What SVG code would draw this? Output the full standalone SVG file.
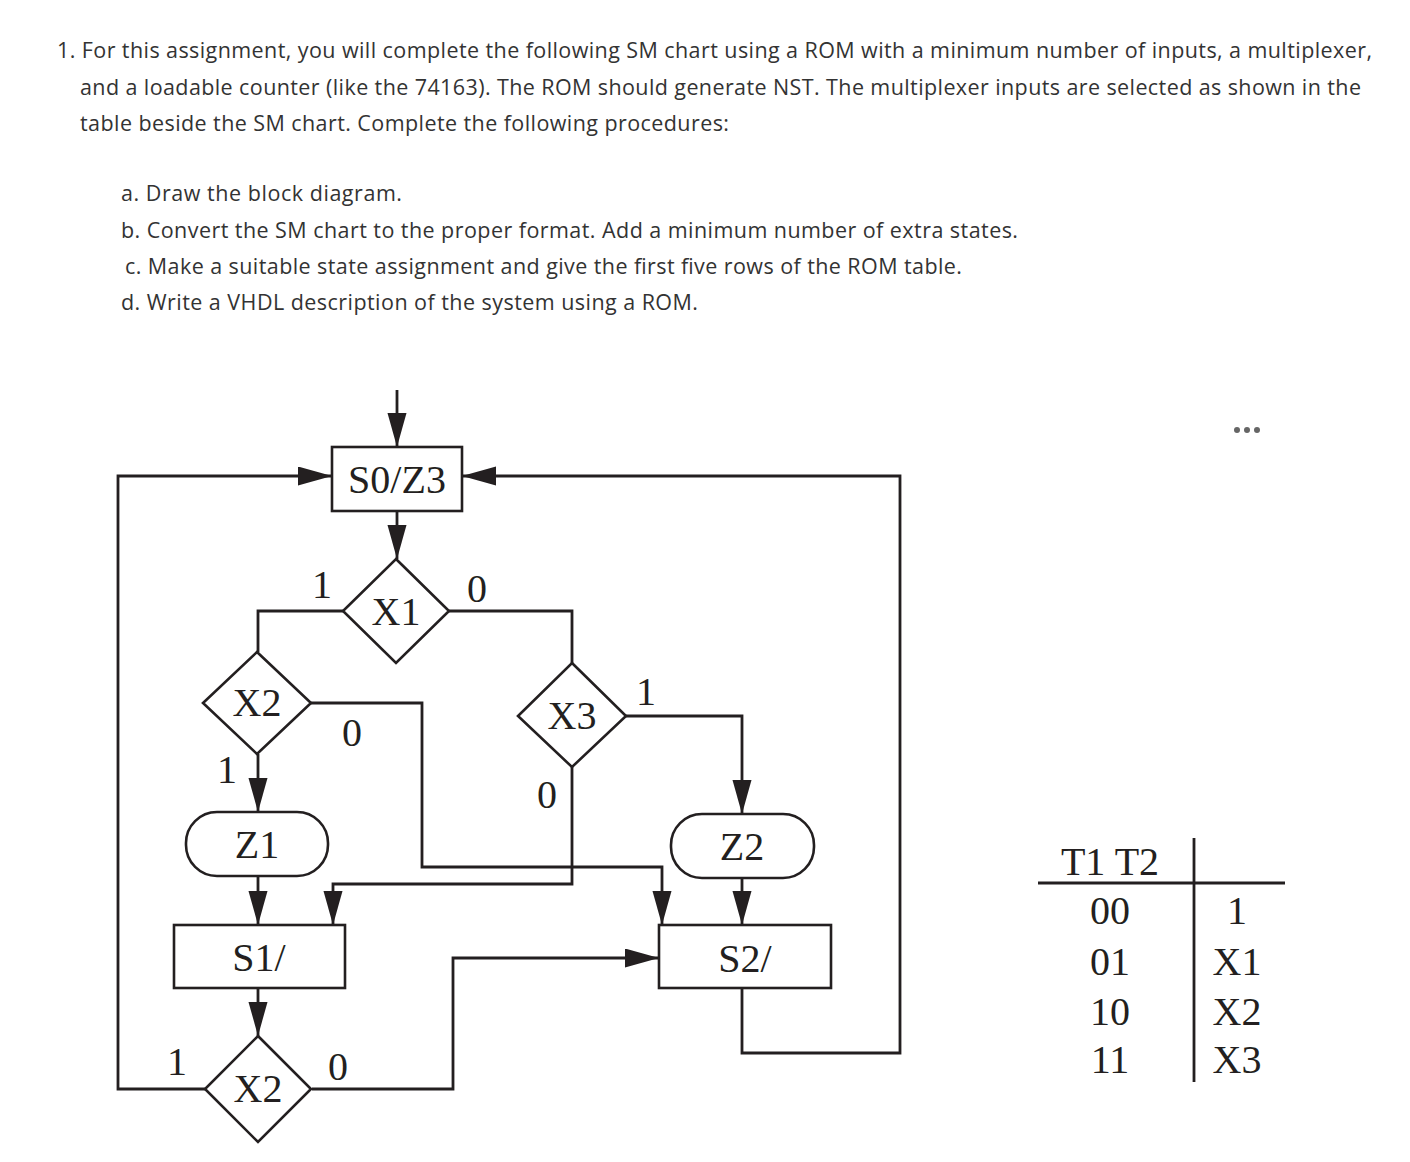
<svg xmlns="http://www.w3.org/2000/svg" width="1410" height="1162" viewBox="0 0 1410 1162">
<style>
.hdr{font-family:"Open Sans","Noto Sans",sans-serif;font-size:21.5px;fill:#333333}
.lbl{font-family:"Liberation Serif",serif;font-size:40px;fill:#231f20;text-anchor:middle}
.shape{fill:#ffffff;stroke:#231f20;stroke-width:2.6}
.conn{fill:none;stroke:#231f20;stroke-width:2.8}
.arr{marker-end:url(#ah)}
</style>
<defs>
<marker id="ah" markerUnits="userSpaceOnUse" markerWidth="36" markerHeight="20" refX="34" refY="9.5" orient="auto">
<path d="M0,0 L34,9.5 L0,19 z" fill="#231f20"/>
</marker>
</defs>
<rect width="1410" height="1162" fill="#ffffff"/>
<g id="header">
<text class="hdr" x="57" y="58" textLength="1315" lengthAdjust="spacing">1. For this assignment, you will complete the following SM chart using a ROM with a minimum number of inputs, a multiplexer,</text>
<text class="hdr" x="80" y="95" textLength="1281" lengthAdjust="spacing">and a loadable counter (like the 74163). The ROM should generate NST. The multiplexer inputs are selected as shown in the</text>
<text class="hdr" x="80" y="131" textLength="649" lengthAdjust="spacing">table beside the SM chart. Complete the following procedures:</text>
<text class="hdr" x="121" y="201" textLength="281" lengthAdjust="spacing">a. Draw the block diagram.</text>
<text class="hdr" x="121" y="238" textLength="897" lengthAdjust="spacing">b. Convert the SM chart to the proper format. Add a minimum number of extra states.</text>
<text class="hdr" x="125" y="274" textLength="837" lengthAdjust="spacing">c. Make a suitable state assignment and give the first five rows of the ROM table.</text>
<text class="hdr" x="121" y="310" textLength="577" lengthAdjust="spacing">d. Write a VHDL description of the system using a ROM.</text>
</g>
<g id="more" fill="#666666">
<circle cx="1237" cy="430" r="3"/>
<circle cx="1247" cy="430" r="3"/>
<circle cx="1257" cy="430" r="3"/>
</g>
<g id="connectors">
<path class="conn arr" d="M397,390 V447"/>
<path class="conn arr" d="M397,511 V559"/>
<path class="conn" d="M343,611 H258 V652"/>
<path class="conn" d="M449,611 H572 V663"/>
<path class="conn arr" d="M258,754 V812"/>
<path class="conn arr" d="M311,703 H422 V867 H662 V925"/>
<path class="conn arr" d="M258,876 V925"/>
<path class="conn arr" d="M572,767 V884 H333 V925"/>
<path class="conn arr" d="M626,716 H742 V814"/>
<path class="conn arr" d="M742,878 V925"/>
<path class="conn arr" d="M258,988 V1036"/>
<path class="conn arr" d="M205,1089 H118 V476 H332"/>
<path class="conn arr" d="M312,1089 H453 V958 H659"/>
<path class="conn arr" d="M742,988 V1053 H900 V476 H462"/>
</g>
<g id="S0">
<rect class="shape" x="332" y="447" width="130" height="64"/>
<text class="lbl" x="397" y="493">S0/Z3</text>
</g>
<g id="X1">
<polygon class="shape" points="396,559 449,611 396,663 343,611"/>
<text class="lbl" x="396" y="625">X1</text>
<text class="lbl" x="322" y="598">1</text>
<text class="lbl" x="477" y="602">0</text>
</g>
<g id="X2top">
<polygon class="shape" points="257,652 311,703 257,754 203,703"/>
<text class="lbl" x="257" y="716">X2</text>
<text class="lbl" x="352" y="746">0</text>
<text class="lbl" x="227" y="783">1</text>
</g>
<g id="X3">
<polygon class="shape" points="572,663 626,716 572,767 518,716"/>
<text class="lbl" x="572" y="729">X3</text>
<text class="lbl" x="646" y="705">1</text>
<text class="lbl" x="547" y="808">0</text>
</g>
<g id="Z1">
<rect class="shape" x="186" y="812" width="142" height="64" rx="31" ry="31"/>
<text class="lbl" x="257" y="858">Z1</text>
</g>
<g id="Z2">
<rect class="shape" x="671" y="814" width="143" height="64" rx="31" ry="31"/>
<text class="lbl" x="742" y="860">Z2</text>
</g>
<g id="S1">
<rect class="shape" x="174" y="925" width="171" height="63"/>
<text class="lbl" x="259" y="971">S1/</text>
</g>
<g id="S2">
<rect class="shape" x="659" y="925" width="172" height="63"/>
<text class="lbl" x="745" y="972">S2/</text>
</g>
<g id="X2bottom">
<polygon class="shape" points="258,1036 311,1089 258,1142 205,1089"/>
<text class="lbl" x="258" y="1102">X2</text>
<text class="lbl" x="177" y="1075">1</text>
<text class="lbl" x="338" y="1080">0</text>
</g>
<g id="table">
<line class="conn" x1="1194" y1="838" x2="1194" y2="1082"/>
<line class="conn" x1="1038" y1="883" x2="1285" y2="883"/>
<text class="lbl" x="1110" y="875">T1 T2</text>
<text class="lbl" x="1110" y="924">00</text>
<text class="lbl" x="1110" y="975">01</text>
<text class="lbl" x="1110" y="1025">10</text>
<text class="lbl" x="1110" y="1073">11</text>
<text class="lbl" x="1237" y="924">1</text>
<text class="lbl" x="1237" y="975">X1</text>
<text class="lbl" x="1237" y="1025">X2</text>
<text class="lbl" x="1237" y="1073">X3</text>
</g>
</svg>
